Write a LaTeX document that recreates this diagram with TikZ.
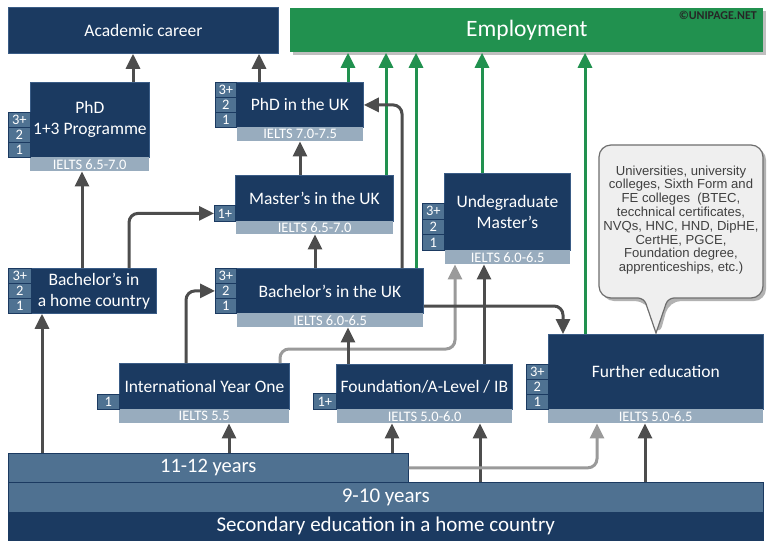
\documentclass[tikz,border=0pt]{standalone}
\usepackage{fontspec}
\setmainfont{Carlito}
\newfontfamily\calloutfont{Liberation Sans}
\usetikzlibrary{arrows.meta,calc}
\definecolor{navy}{HTML}{1B3A61}
\definecolor{navyb}{HTML}{3A5C86}
\definecolor{badgec}{HTML}{4F7292}
\definecolor{stripc}{HTML}{98ACBE}
\definecolor{barc}{HTML}{4F7191}
\definecolor{empc}{HTML}{21914F}
\definecolor{arrd}{HTML}{4D4D4D}
\definecolor{arrl}{HTML}{9A9A9A}
\definecolor{callf}{HTML}{EFEFEF}
\definecolor{callb}{HTML}{6E6E6E}
\tikzset{
  box/.style={fill=navy, draw=navyb, line width=0.8pt, text=white, inner sep=0pt, align=center, anchor=north west, font=\fontsize{17.5}{21}\selectfont},
  strip/.style={fill=stripc, draw=none, text=white, inner sep=0pt, anchor=north west, font=\fontsize{14.5}{15}\selectfont},
  badge/.style={fill=badgec, draw=navy, line width=0.8pt, text=white, inner sep=0pt, anchor=north west, font=\fontsize{14.5}{15}\selectfont},
  bar/.style={fill=barc, draw=navy, line width=0.6pt, text=white, inner sep=0pt, anchor=north west, font=\fontsize{21}{24}\selectfont},
  arrdk/.style={draw=arrd, line width=3pt, -{Triangle[length=15pt,width=14pt]}, rounded corners=9pt},
  arrlt/.style={draw=arrl, line width=3pt, -{Triangle[length=15pt,width=14pt]}, rounded corners=9pt},
  arrgr/.style={draw=empc, line width=3pt, -{Triangle[length=15pt,width=14pt]}},
}
\begin{document}
\begin{tikzpicture}[x=1pt,y=-1pt]
\useasboundingbox (0,0) rectangle (768,544);
\fill[white] (0,0) rectangle (768,544);
% top boxes
\node[box, minimum width=270pt, minimum height=46pt, draw=navyb] (acad) at (8,7) {\raisebox{-1pt}{Academic career}};
\fill[black!25] (293,11) rectangle (766,55);
\node[box, fill=empc, draw=none, minimum width=473pt, minimum height=44pt, font=\fontsize{23.5}{26}\selectfont] (emp) at (290,8) {\raisebox{-2pt}{Employment}};
\node[anchor=east, inner sep=0pt, font=\fontsize{12}{13}\selectfont\bfseries, text=black!85] (copy) at (757,15) {©UNIPAGE.NET};
% PhD 1+3
\node[box, minimum width=119pt, minimum height=75pt] (phd13) at (30,82) {PhD\\1+3 Programme};
\node[strip, minimum width=119pt, minimum height=14pt] (phd13s) at (30,157) {IELTS 6.5-7.0};
\node[badge, minimum width=22pt, minimum height=15pt] (p13a) at (8,112) {3+};
\node[badge, minimum width=22pt, minimum height=15pt] (p13b) at (8,127) {2};
\node[badge, minimum width=22pt, minimum height=15pt] (p13c) at (8,142) {1};
% PhD UK
\node[box, minimum width=127pt, minimum height=45pt] (phduk) at (236,82) {\raisebox{-1pt}{PhD in the UK}};
\node[strip, minimum width=126pt, minimum height=14pt] (phduks) at (237,127) {IELTS 7.0-7.5};
\node[badge, minimum width=21pt, minimum height=15pt] (pua) at (215,82) {3+};
\node[badge, minimum width=21pt, minimum height=15pt] (pub) at (215,97) {2};
\node[badge, minimum width=21pt, minimum height=15pt] (puc) at (215,112) {1};
% Master's UK
\node[box, minimum width=158pt, minimum height=46pt] (mast) at (235,175) {\raisebox{-1pt}{Master's in the UK}};
\node[strip, minimum width=157pt, minimum height=13pt] (masts) at (236,221) {IELTS 6.5-7.0};
\node[badge, minimum width=21pt, minimum height=16pt] (mb) at (214,205) {1+};
% Undergraduate Master's
\node[box, minimum width=126pt, minimum height=77pt] (ugm) at (444,173) {Undegraduate\\Master's};
\node[strip, minimum width=125pt, minimum height=14pt] (ugms) at (445,250) {IELTS 6.0-6.5};
\node[badge, minimum width=22pt, minimum height=15.7pt] (uga) at (422,203) {3+};
\node[badge, minimum width=22pt, minimum height=15.7pt] (ugb) at (422,218.7) {2};
\node[badge, minimum width=22pt, minimum height=15.7pt] (ugc) at (422,234.4) {1};
% Bachelor's home
\node[box, minimum width=125pt, minimum height=45pt] (bhc) at (31,268) {Bachelor's in\\a home country};
\node[badge, minimum width=23pt, minimum height=15pt] (bha) at (8,268) {3+};
\node[badge, minimum width=23pt, minimum height=15pt] (bhb) at (8,283) {2};
\node[badge, minimum width=23pt, minimum height=15pt] (bhcc) at (8,298) {1};
% Bachelor's UK
\node[box, minimum width=187pt, minimum height=45pt] (buk) at (236,268) {\raisebox{-1pt}{Bachelor's in the UK}};
\node[strip, minimum width=186pt, minimum height=14pt] (buks) at (237,313) {IELTS 6.0-6.5};
\node[badge, minimum width=21pt, minimum height=15pt] (bua) at (215,268) {3+};
\node[badge, minimum width=21pt, minimum height=15pt] (bub) at (215,283) {2};
\node[badge, minimum width=21pt, minimum height=15pt] (buc) at (215,298) {1};
% International Year One
\node[box, minimum width=170pt, minimum height=46pt] (iyo) at (119,363) {\raisebox{-1pt}{International Year One}};
\node[strip, minimum width=170pt, minimum height=14pt] (iyos) at (119,409) {IELTS 5.5};
\node[badge, minimum width=22pt, minimum height=15pt] (iyb) at (97,394) {1};
% Foundation
\node[box, minimum width=176pt, minimum height=45pt] (fnd) at (336,364) {\raisebox{-1pt}{Foundation/A-Level / IB}};
\node[strip, minimum width=175pt, minimum height=14pt] (fnds) at (337,409) {IELTS 5.0-6.0};
\node[badge, minimum width=23pt, minimum height=16pt] (fb) at (313,393) {1+};
% Further education
\node[box, minimum width=215pt, minimum height=75pt] (fe) at (548,334) {\raisebox{-1pt}{Further education}};
\node[strip, minimum width=215pt, minimum height=14pt] (fes) at (548,409) {IELTS 5.0-6.5};
\node[badge, minimum width=22pt, minimum height=15pt] (fea) at (526,364) {3+};
\node[badge, minimum width=22pt, minimum height=15pt] (feb) at (526,379) {2};
\node[badge, minimum width=22pt, minimum height=15pt] (fec) at (526,394) {1};
% bottom bars
\node[bar, minimum width=755pt, minimum height=30pt] (y910) at (8,482) {9-10 years};
\node[bar, minimum width=400pt, minimum height=29pt, font=\fontsize{20.5}{22}\selectfont] (y1112) at (8,453) {11-12 years};
\node[bar, fill=navy, minimum width=755pt, minimum height=28pt] (sec) at (8,512) {Secondary education in a home country};
% callout
\fill[black!30, rounded corners=12pt] (602,148) -- (766,148) -- (766,301) -- (669,301) -- (659,337) -- (647,301) -- (602,301) -- cycle;
\draw[fill=callf, draw=callb, line width=1.2pt] (599,160) [rounded corners=12pt] -- (599,145) -- (763,145) -- (763,298) [rounded corners=6pt] -- (668,298) [sharp corners] -- (656,333) [rounded corners=6pt] -- (644,298) [rounded corners=12pt] -- (599,298) -- (599,160);
\node[align=center, inner sep=0pt, text=black!75, font=\calloutfont\fontsize{13.1}{13.8}\selectfont] (callt) at (681,220) {Universities, university\\colleges, Sixth Form and\\FE colleges\ \ (BTEC,\\tecchnical certificates,\\NVQs, HNC, HND, DipHE,\\CertHE, PGCE,\\Foundation degree,\\apprenticeships, etc.)};
% connectors to academic career
\draw[arrdk] (133,0 |- phd13.north) -- (133,0 |- acad.south);
\draw[arrdk] (259,0 |- phduk.north) -- (259,0 |- acad.south);
% green to employment
\draw[arrgr] (348,0 |- phduk.north) -- (348,0 |- emp.south);
\draw[arrgr] (386,0 |- mast.north) -- (386,0 |- emp.south);
\draw[arrgr] (416,0 |- buk.north) -- (416,0 |- emp.south);
\draw[arrgr] (482,0 |- ugm.north) -- (482,0 |- emp.south);
\draw[arrgr] (585,0 |- fe.north) -- (585,0 |- emp.south);
% middle
\draw[arrdk] (82,0 |- bhc.north) -- (82,0 |- phd13s.south);
\draw[arrdk] (129,0 |- bhc.north) |- (mb.west);
\draw[arrdk] (300,0 |- mast.north) -- (300,0 |- phduks.south);
\draw[arrdk] (315,0 |- buk.north) -- (315,0 |- masts.south);
\draw[arrdk] (402,0 |- buk.north) |- (phduk.east);
\draw[arrdk] (186,0 |- iyo.north) |- (bub.west);
\draw[arrlt] (280,0 |- iyo.north) -- (280,349) -- (455,349) -- (455,0 |- ugms.south);
\draw[arrdk] (348,0 |- fnd.north) -- (348,0 |- buks.south);
\draw[arrdk] (484,0 |- fnd.north) -- (484,0 |- ugms.south);
\draw[arrdk] (buk.east |- 0,306) -| (563,0 |- fe.north);
% bottom
\draw[arrdk] (42,0 |- y1112.north) -- (42,0 |- bhc.south);
\draw[arrdk] (229,0 |- y1112.north) -- (229,0 |- iyos.south);
\draw[arrdk] (392,0 |- y1112.north) -- (392,0 |- fnds.south);
\draw[arrdk] (480,0 |- y910.north) -- (480,0 |- fnds.south);
\draw[arrlt] (y1112.east) -| (597,0 |- fes.south);
\draw[arrdk] (645,0 |- y910.north) -- (645,0 |- fes.south);
\end{tikzpicture}
\end{document}
